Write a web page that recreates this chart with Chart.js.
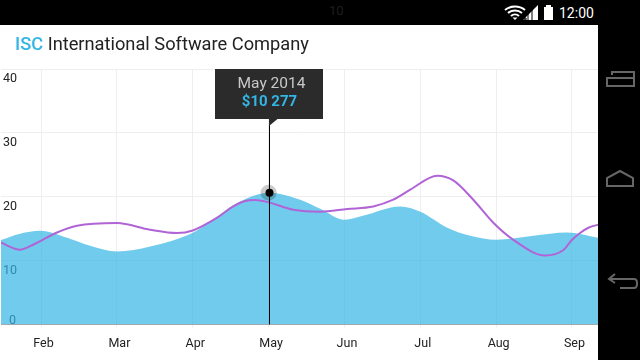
<!DOCTYPE html>
<html>
<head>
<meta charset="utf-8">
<script src="https://cdn.jsdelivr.net/npm/chart.js@4"></script>
<style>
html, body { margin: 0; padding: 0; background: #000; overflow: hidden; }
#page { position: relative; width: 640px; height: 360px; background: #000; font-family: Roboto, sans-serif; }
#status-ten { position: absolute; left: 329px; top: 3px; font-size: 13px; color: #1e1e1e; }
#clock { position: absolute; left: 559px; top: 5px; font-size: 14px; color: #fff; }
#panel { position: absolute; left: 0; top: 25px; width: 598px; height: 335px; background: #fff; }
#title { position: absolute; left: 15px; top: 8px; font-size: 18.25px; line-height: 22px; color: #222; white-space: nowrap; }
#title b { font-weight: 500; color: #33b5e5; }
canvas { position: absolute; left: 0; top: 0; }
svg { position: absolute; left: 0; top: 0; }
</style>
</head>
<body>
<div id="page">
    <svg width="640" height="360">
        <!-- status bar icons -->
        <path d="M505 10 a16 16 0 0 1 20 0 M508 13 a11 11 0 0 1 14 0 M511 16 a6 6 0 0 1 8 0" fill="none" stroke="#fff" stroke-width="2"/>
        <path d="M512.5 17.5 L515 20 L517.5 17.5 Z" fill="#fff"/>
        <path d="M523 20 H538 V5 Z" fill="#fff"/>
        <path d="M524 20 h2 v-2 h-2z M528 20 v-6 M532 20 v-10" stroke="#000" stroke-width="1" fill="none"/>
        <path d="M544 7 h2 v-2 h5 v2 h2 v13 h-9 Z" fill="#fff"/>
        <!-- nav bar icons -->
        <g fill="none" stroke="#666" stroke-width="2">
            <path d="M607 78 h27 v8 h-27 z"/>
            <path d="M612 75 v-3 h22 v10"/>
            <path d="M607 186 v-8 l13 -7 l13 7 v8 z"/>
            <path d="M610 279 h24 q3 0 3 4 v1 q0 4 -3 4 h-14"/>
            <path d="M615 274 l-6 5 l6 4"/>
        </g>
    </svg>
    <div id="status-ten">10</div>
    <div id="clock">12:00</div>
    <div id="panel">
        <canvas id="chart" width="598" height="335"></canvas>
        <div id="title"><b>ISC</b> International Software Company</div>
    </div>
</div>
<script>
const month_ticks = [2, 3, 4, 5, 6, 7, 8, 9];
const month_labels = ['Feb', 'Mar', 'Apr', 'May', 'Jun', 'Jul', 'Aug', 'Sep'];

//x is in months, 2 = Feb
const area_months = [1.472, 1.723, 1.987, 2.343, 2.646, 3, 3.438, 4, 4.269, 4.427, 4.625, 4.823, 5, 5.417, 5.681, 6, 6.243, 6.736, 7, 7.356, 7.66, 8, 8.49, 8.934, 9.343];
const area_values = [13.2, 14.2, 14.67, 13.57, 12.31, 11.42, 12.2, 14.35, 16.39, 17.8, 19.26, 20.24, 20.63, 19.53, 18.12, 16.39, 17.02, 18.48, 17.65, 15.14, 13.88, 13.25, 13.88, 14.4, 13.57];

const line_months = [1.472, 1.723, 1.894, 2.211, 2.475, 3, 3.438, 3.794, 4, 4.322, 4.533, 4.68, 4.823, 5, 5.325, 5.681, 6.037, 6.38, 6.644, 6.868, 7.224, 7.435, 7.699, 7.963, 8.227, 8.649, 8.887, 8.992, 9.111, 9.216, 9.343];
const line_values = [12.78, 11.69, 12.47, 14.4, 15.45, 15.87, 14.82, 14.31, 14.71, 16.71, 18.5, 19.29, 19.48, 19.11, 17.96, 17.65, 18.07, 18.48, 19.53, 21.1, 23.29, 22.56, 19.53, 15.92, 13.25, 10.79, 11.65, 13.13, 14.35, 15.14, 15.61];

const selected_month = 5;
const selected_value = 20.63;
const tooltip_title = 'May 2014';
const tooltip_amount = '$10 277';

const grid_color = '#eeeeee';
const tick_color = '#222222';
const font_family = 'Roboto, sans-serif';

function to_points(xs, ys) {
    return xs.map((x, i) => ({ x: x, y: ys[i] }));
}

//crosshair and the dark box above it
const tooltip_plugin = {
    id: 'fixedTooltip',
    afterDatasetsDraw(chart) {
        const c = chart.ctx;
        const x = Math.round(chart.scales.x.getPixelForValue(selected_month)) + 0.5;
        const top = chart.scales.y.getPixelForValue(40);
        const bottom = chart.scales.y.getPixelForValue(0);
        const dot_y = chart.scales.y.getPixelForValue(selected_value);

        c.save();
        c.strokeStyle = '#000';
        c.lineWidth = 1;
        c.beginPath();
        c.moveTo(x, top + 50);
        c.lineTo(x, bottom);
        c.stroke();

        c.fillStyle = '#000';
        c.beginPath();
        c.arc(x, dot_y, 4, 0, Math.PI * 2);
        c.fill();

        c.fillStyle = '#2b2b2b';
        c.fillRect(x - 54.5, top, 108, 50);
        c.beginPath();
        c.moveTo(x - 0.5, top + 50);
        c.lineTo(x + 8, top + 50);
        c.lineTo(x - 0.5, top + 57);
        c.closePath();
        c.fill();

        c.textAlign = 'center';
        c.textBaseline = 'middle';
        c.fillStyle = '#c8c8c8';
        c.font = '15.5px ' + font_family;
        c.fillText(tooltip_title, x + 2, top + 15);
        c.fillStyle = '#33b5e5';
        c.font = 'bold 15px ' + font_family;
        c.fillText(tooltip_amount, x, top + 33);
        c.restore();
    }
};

new Chart(document.getElementById('chart'), {
    type: 'line',
    data: {
        datasets: [{
            //grey halo of the selected point
            data: [{ x: selected_month, y: selected_value }],
            showLine: false,
            pointRadius: 8,
            pointBackgroundColor: 'rgba(0, 0, 0, 0.2)',
            pointBorderWidth: 0,
        }, {
            data: to_points(line_months, line_values),
            borderColor: '#b064d6',
            borderWidth: 2,
            cubicInterpolationMode: 'monotone',
            pointRadius: 0,
            fill: false,
        }, {
            data: to_points(area_months, area_values),
            borderWidth: 0,
            backgroundColor: 'rgba(51, 181, 229, 0.7)',
            cubicInterpolationMode: 'monotone',
            pointRadius: 0,
            fill: 'origin',
        }]
    },
    options: {
        responsive: false,
        animation: false,
        events: [],
        layout: { autoPadding: false, padding: { left: 1, right: 0, top: 44, bottom: 0 } },
        plugins: { legend: { display: false }, tooltip: { enabled: false } },
        scales: {
            x: {
                type: 'linear',
                min: 1.472,
                max: 9.343,
                afterBuildTicks(scale) {
                    scale.ticks = month_ticks.map((m) => ({ value: m }));
                },
                afterFit(scale) {
                    scale.height = 35.6;
                    scale.paddingLeft = 0;
                    scale.paddingRight = 0;
                },
                border: { color: '#aaaaaa' },
                grid: { color: grid_color, tickLength: 3, tickColor: grid_color },
                ticks: {
                    autoSkip: false,
                    maxRotation: 0,
                    padding: 9,
                    labelOffset: 2.5,
                    color: tick_color,
                    font: { family: font_family, size: 12.5 },
                    callback: (v) => month_labels[month_ticks.indexOf(v)],
                },
            },
            y: {
                position: 'left',
                min: 0,
                max: 40,
                afterBuildTicks(scale) {
                    scale.ticks = scale.ticks.filter((t) => t.value > 0);
                },
                afterFit(scale) {
                    scale.width = 0;
                },
                border: { display: false },
                grid: { color: grid_color, drawTicks: false },
                ticks: {
                    stepSize: 10,
                    mirror: true,
                    padding: 2,
                    labelOffset: 10,
                    color: tick_color,
                    font: { family: font_family, size: 12.5 },
                },
            },
            //the 0 label sits above the axis line, the others below their grid line
            y_zero: {
                position: 'left',
                min: 0,
                max: 40,
                afterBuildTicks(scale) {
                    scale.ticks = scale.ticks.filter((t) => t.value === 0);
                },
                afterFit(scale) {
                    scale.width = 0;
                },
                border: { display: false },
                grid: { display: false, drawTicks: false },
                ticks: {
                    stepSize: 10,
                    mirror: true,
                    padding: 8,
                    labelOffset: -4,
                    color: tick_color,
                    font: { family: font_family, size: 12.5 },
                },
            },
        },
    },
    plugins: [tooltip_plugin],
});
</script>
</body>
</html>
